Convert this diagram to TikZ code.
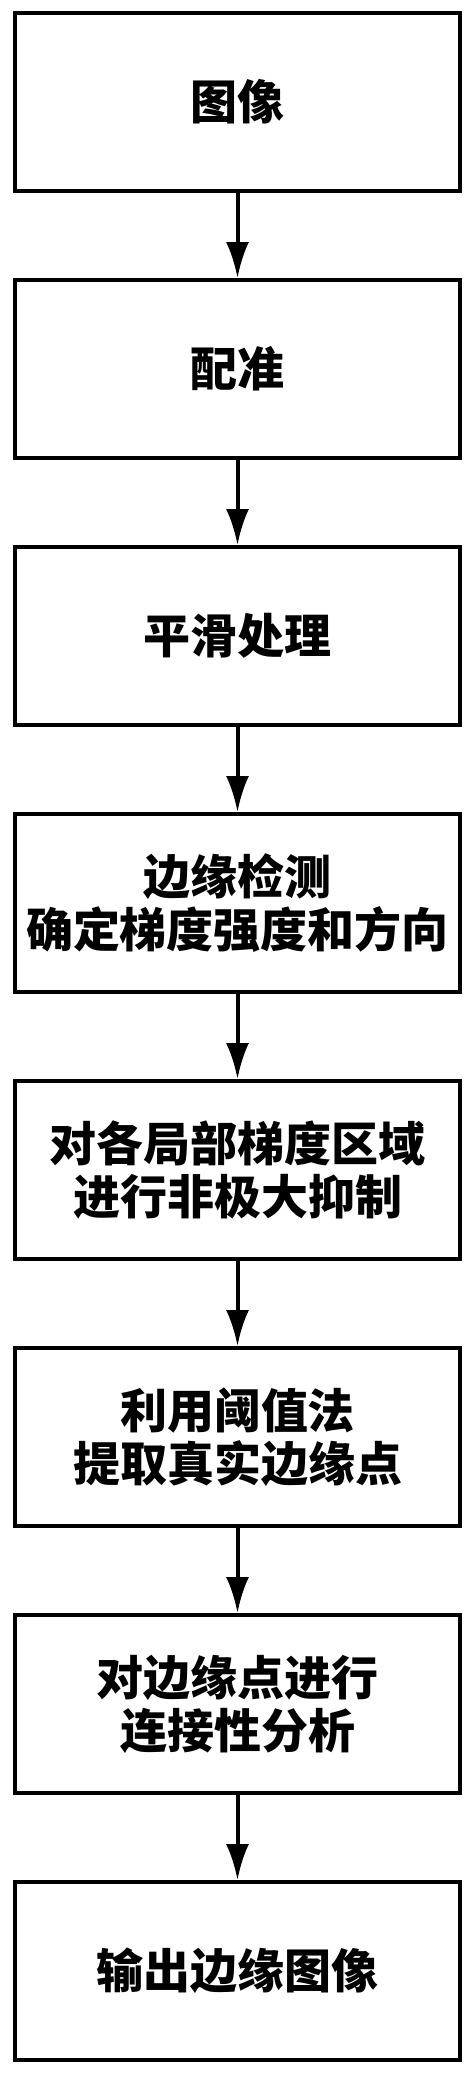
\documentclass[tikz,border=0pt]{standalone}
\usepackage{fontspec}
\newfontfamily\cjk{Noto Sans CJK SC}
\usepackage{tikz}
\usetikzlibrary{arrows.meta, positioning}

\begin{document}
\begin{tikzpicture}[x=1pt, y=1pt, node distance={85pt}, main/.style = {draw, rectangle, line width=4pt, minimum width=445pt, minimum height=178pt, align=center, font=\cjk\bfseries\fontsize{47pt}{53pt}\selectfont}]
            \useasboundingbox (0,0) rectangle (474,-2075);
            \node[main] (img) at (237.5,-102) {图像};
            \node[main] (reg) [below=of img] {配准};
            \node[main] (smooth) [below=of reg] {平滑处理};
            \node[main] (edge) [below=of smooth] {边缘检测\\确定梯度强度和方向};
            \node[main] (nms) [below=of edge] {对各局部梯度区域\\进行非极大抑制};
            \node[main] (thr) [below=of nms] {利用阈值法\\提取真实边缘点};
            \node[main] (conn) [below=of thr] {对边缘点进行\\连接性分析};
            \node[main] (out) [below=of conn] {输出边缘图像};

            \path[-{Latex[length=36pt,width=23pt]}, line width=4pt] (img) edge (reg);
            \path[-{Latex[length=36pt,width=23pt]}, line width=4pt] (reg) edge (smooth);
            \path[-{Latex[length=36pt,width=23pt]}, line width=4pt] (smooth) edge (edge);
            \path[-{Latex[length=36pt,width=23pt]}, line width=4pt] (edge) edge (nms);
            \path[-{Latex[length=36pt,width=23pt]}, line width=4pt] (nms) edge (thr);
            \path[-{Latex[length=36pt,width=23pt]}, line width=4pt] (thr) edge (conn);
            \path[-{Latex[length=36pt,width=23pt]}, line width=4pt] (conn) edge (out);
        \end{tikzpicture}
\end{document}
